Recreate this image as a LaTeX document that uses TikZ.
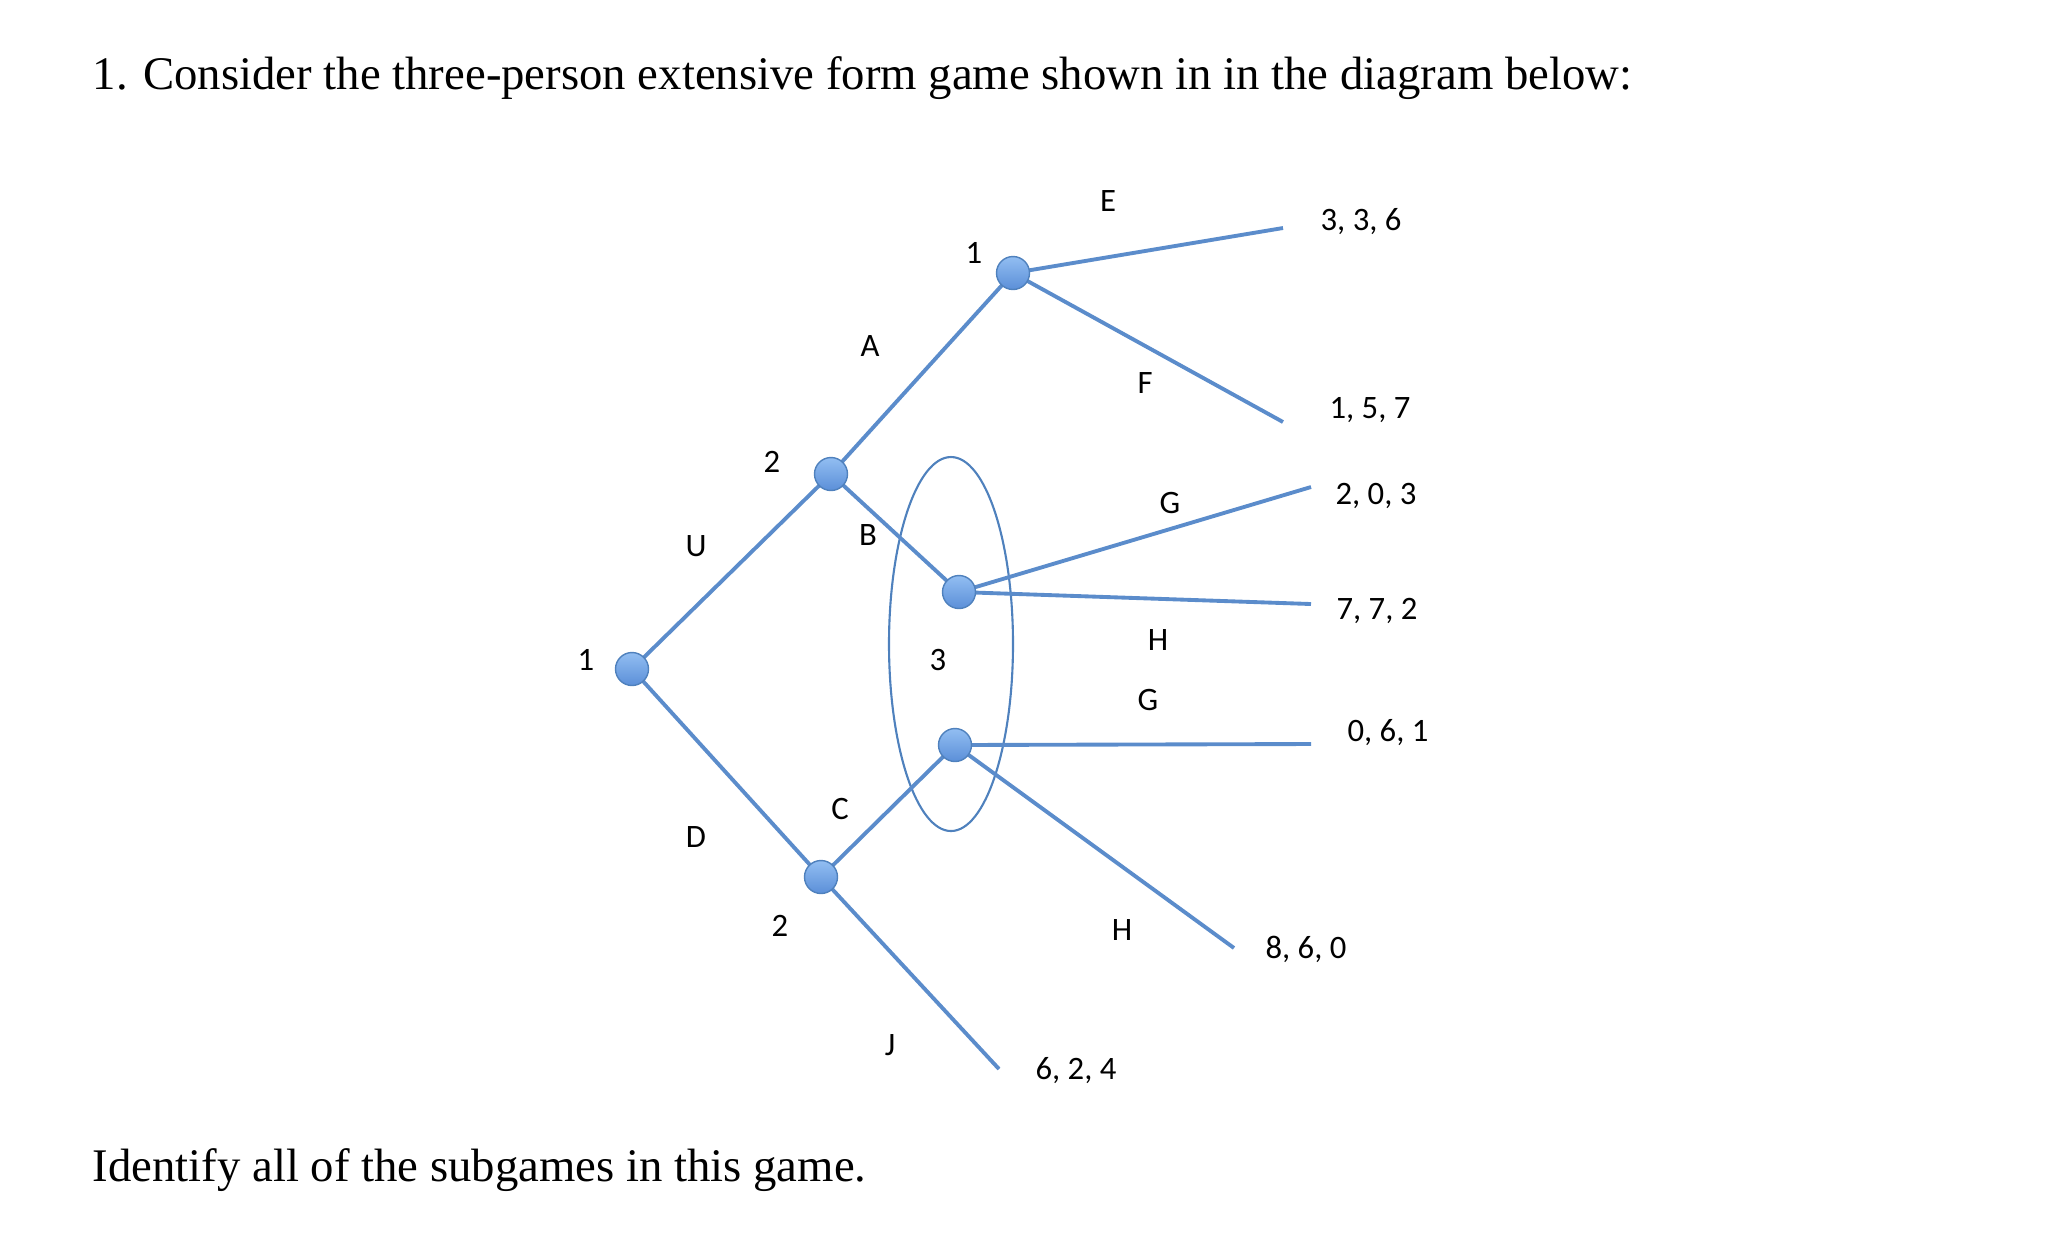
\documentclass[tikz,border=0pt]{standalone}
\usepackage{fontspec}
\setmainfont{Liberation Serif}
\newfontfamily\labfont{Carlito}
\usetikzlibrary{shapes.geometric,positioning}

\definecolor{edgeblue}{HTML}{5B8CCB}
\definecolor{nodetop}{HTML}{92BEF2}
\definecolor{nodebot}{HTML}{5B8FD8}
\definecolor{nodeline}{HTML}{4F81BD}

\begin{document}
\begin{tikzpicture}[every node/.style={font=\labfont\fontsize{9.3}{11}\selectfont, inner sep=0pt},
    dec/.style={circle, minimum size=0.33cm, top color=nodetop, bottom color=nodebot, draw=nodeline, line width=0.4pt},
    branch/.style={draw=edgeblue, line width=1.1pt},
    infoset/.style={ellipse, draw=nodeline, line width=0.6pt, minimum width=1.24cm, minimum height=3.74cm},
    question/.style={font=\fontsize{13.3}{16}\selectfont, anchor=base west}]
  \useasboundingbox (0,0) rectangle (20.46,-12.37);

  % question text
  \node[question] (q) at (0.92,-0.89) {1. Consider the three-person extensive form game shown in in the diagram below:};
  \node[question] (ask) at (0.92,-11.81) {Identify all of the subgames in this game.};

  % information set of player 3
  \node[infoset] (info) at (9.51,-6.44) {};

  % ends of the branches
  \coordinate (eE) at (12.83,-2.28);
  \coordinate (eF) at (12.83,-4.22);
  \coordinate (eG) at (13.11,-4.87);
  \coordinate (eH) at (13.11,-6.04);
  \coordinate (eG2) at (13.11,-7.44);
  \coordinate (eH2) at (12.34,-9.48);
  \coordinate (eJ) at (9.99,-10.69);

  % branches
  \path[branch]
    (6.32,-6.69) -- (8.31,-4.74)
    (8.31,-4.74) -- (10.13,-2.73)
    (8.31,-4.74) -- (9.59,-5.92)
    (6.32,-6.69) -- (8.21,-8.77)
    (8.21,-8.77) -- (9.55,-7.45)
    (8.21,-8.77) -- (eJ)
    (10.13,-2.73) -- (eE)
    (10.13,-2.73) -- (eF)
    (9.59,-5.92) -- (eG)
    (9.59,-5.92) -- (eH)
    (9.55,-7.45) -- (eG2)
    (9.55,-7.45) -- (eH2);

  % decision nodes
  \node[dec] (r) at (6.32,-6.69) {};
  \node[dec] (u2) at (8.31,-4.74) {};
  \node[dec] (t1) at (10.13,-2.73) {};
  \node[dec] (p3a) at (9.59,-5.92) {};
  \node[dec] (p3b) at (9.55,-7.45) {};
  \node[dec] (d2) at (8.21,-8.77) {};

  % players
  \node (lr) at (5.86,-6.60) {1};
  \node (lu2) at (7.72,-4.62) {2};
  \node (lt1) at (9.74,-2.53) {1};
  \node (linfo) at (9.38,-6.60) {3};
  \node (ld2) at (7.80,-9.26) {2};

  % actions
  \node (aU) at (6.96,-5.46) {U};
  \node (aD) at (6.96,-8.37) {D};
  \node (aA) at (8.70,-3.46) {A};
  \node (aB) at (8.68,-5.35) {B};
  \node (aC) at (8.40,-8.09) {C};
  \node (aJ) at (8.90,-10.45) {J};
  \node (aE) at (11.08,-2.01) {E};
  \node (aF) at (11.45,-3.83) {F};
  \node (aG) at (11.70,-5.03) {G};
  \node (aH) at (11.58,-6.40) {H};
  \node (aG2) at (11.48,-7.00) {G};
  \node (aH2) at (11.22,-9.30) {H};

  % payoffs
  \node (pE) at (13.61,-2.22) {3, 3, 6};
  \node (pF) at (13.70,-4.10) {1, 5, 7};
  \node (pG) at (13.76,-4.96) {2, 0, 3};
  \node (pH) at (13.77,-6.11) {7, 7, 2};
  \node (pG2) at (13.88,-7.33) {0, 6, 1};
  \node (pH2) at (13.06,-9.49) {8, 6, 0};
  \node (pJ) at (10.76,-10.71) {6, 2, 4};
\end{tikzpicture}
\end{document}
